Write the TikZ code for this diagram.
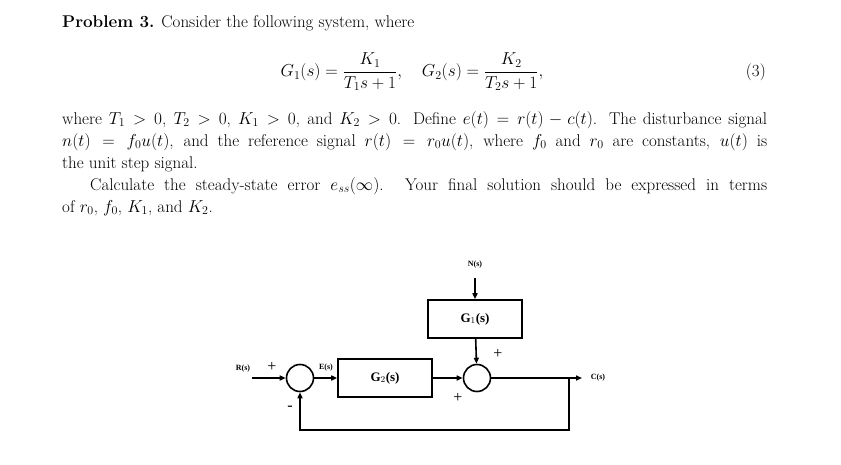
\documentclass[tikz,border=0pt]{standalone}
\usepackage{fontspec}
\usepackage{amsmath}
\newfontfamily\tnr{Liberation Serif}
\usetikzlibrary{arrows.meta}
\begin{document}
\begin{tikzpicture}[x=1pt,y=-1pt,
  blk/.style={draw,line width=1.6pt,minimum width=94pt,minimum height=38pt,font=\tnr\bfseries\fontsize{13}{13}\selectfont},
  sumc/.style={draw,circle,line width=1.6pt,minimum size=27pt,inner sep=0},
  sig/.style={font=\tnr\bfseries\fontsize{8}{8}\selectfont},
  sgn/.style={font=\tnr\fontsize{16}{16}\selectfont},
  wire/.style={line width=1.6pt},
  arr/.style={wire,-{Triangle[length=6pt,width=5pt]}}]
\useasboundingbox (0,0) rectangle (841,465);
\fontsize{17}{22}\selectfont
\node[anchor=north west,inner sep=0,text width=705pt,align=justify] (p1) at (62,15)
 {\textbf{Problem 3.} Consider the following system, where};
\node[inner sep=0] (eq) at (412,72) {$G_1(s)=\dfrac{K_1}{T_1s+1},\quad G_2(s)=\dfrac{K_2}{T_2s+1},$};
\node[inner sep=0,anchor=east] (eqn) at (766,72) {(3)};
\node[anchor=north west,inner sep=0,text width=705pt,align=justify] (p2) at (62,111)
 {where $T_1>0$, $T_2>0$, $K_1>0$, and $K_2>0$. Define $e(t)=r(t)-c(t)$. The disturbance signal\linebreak
 $n(t)=f_0u(t)$, and the reference signal $r(t)=r_0u(t)$, where $f_0$ and $r_0$ are constants, $u(t)$ is\linebreak
 the unit step signal.\par
 \hspace*{28pt}Calculate the steady-state error $e_{ss}(\infty)$. Your final solution should be expressed in terms\linebreak
 of $r_0$, $f_0$, $K_1$, and $K_2$.};
% diagram
\node[blk] (g2) at (385,378) {G$_2$(s)};
\node[blk] (g1) at (475,319) {G$_1$(s)};
\node[sumc] (s1) at (300,378) {};
\node[sumc] (s2) at (477,378) {};
\node[sig] (n) at (475,265) {N(s)};
\node[sig] (r) at (243,369) {R(s)};
\node[sig] (c) at (598,378) {C(s)};
\node[sig] (e) at (326,368) {E(s)};
\coordinate (rin) at (252,378);
\coordinate (cout) at (582,378);
\coordinate (br) at (569,378);
\coordinate (fb1) at (569,430);
\coordinate (fb2) at (300,430);
\coordinate (ntop) at (475,278);
\draw[arr] (rin) -- (s1);
\draw[arr] (s1) -- (g2);
\draw[arr] (g2) -- (s2);
\draw[arr] (s2) -- (cout);
\draw[arr] (ntop) -- (g1);
\draw[arr] (g1) -- (s2);
\draw[arr] (br) -- (fb1) -- (fb2) -- (s1);
\node[sgn] (pr) at (272,367) {+};
\node[sgn] (mr) at (290,408) {-};
\node[sgn] (pt) at (498,354) {+};
\node[sgn] (pb) at (458,398) {+};
\end{tikzpicture}
\end{document}
